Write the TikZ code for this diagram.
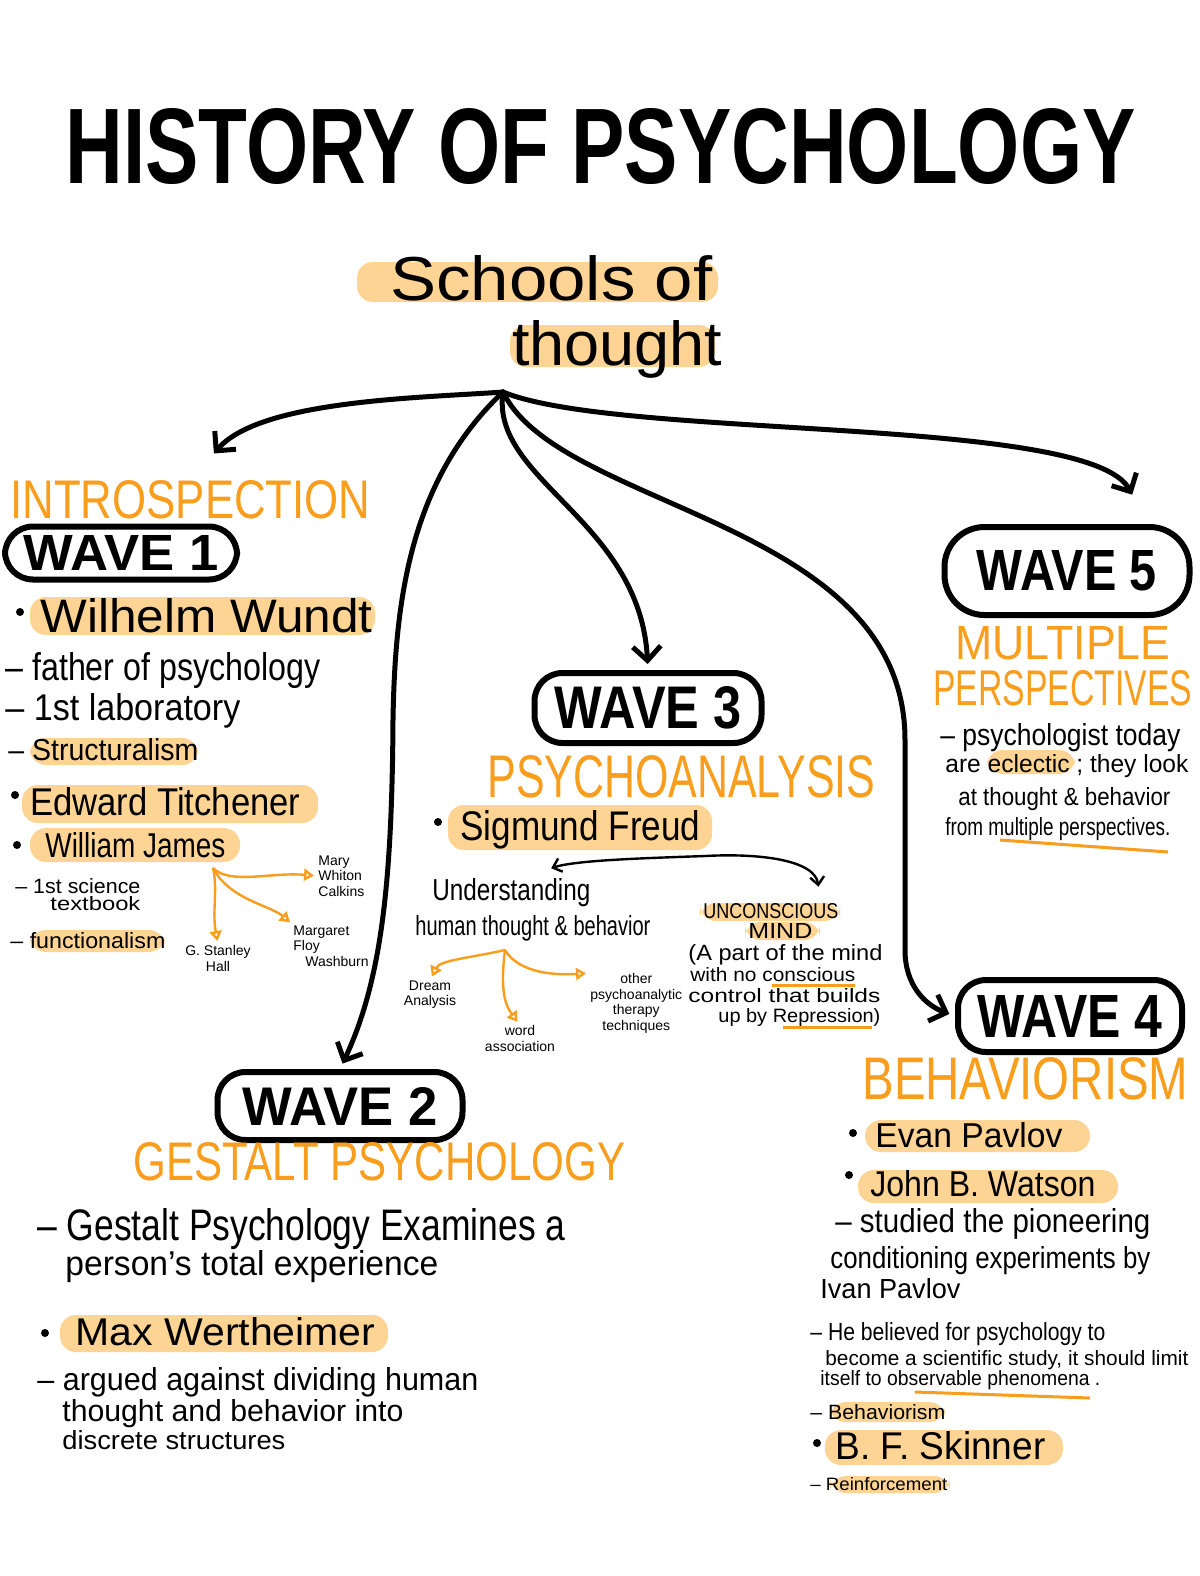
\documentclass[tikz,border=0pt]{standalone}
\usepackage{fontspec}
\setmainfont{Liberation Sans}
\usepackage{graphicx}
\usetikzlibrary{arrows.meta}
\definecolor{hiorange}{HTML}{F99D1C}
\definecolor{hilite}{HTML}{FDD494}
\newlength\pxu \setlength\pxu{0.5pt}
\newcommand\tw[2]{\resizebox{#1\pxu}{!}{#2}}
\newcommand\twh[3]{\resizebox{#1\pxu}{#2\pxu}{#3}}
\begin{document}
\begin{tikzpicture}[x=0.5pt,y=-0.5pt,
  txt/.style={anchor=base west, inner sep=0pt, text=black},
  otxt/.style={txt, text=hiorange},
  hl/.style={fill=hilite, rounded corners=8pt},
  wave/.style={draw, line width=3pt, rounded corners=14pt, inner sep=0pt, font=\bfseries},
  arr/.style={line width=2.5pt, -{Straight Barb[length=7pt,width=14pt]}, line cap=round, shorten >=3pt},
  oarr/.style={hiorange, line width=1.2pt, -{Triangle[open,length=5pt,width=6pt]}, shorten >=2pt},
  thinarr/.style={line width=1.2pt, -{Straight Barb[length=4pt,width=7pt]}, shorten >=2pt},
  sm/.style={inner sep=0pt, font=\fontsize{7}{7.8}\selectfont},
  dot/.style={circle, fill=black, inner sep=0pt, minimum size=4pt},
  uline/.style={hiorange, line width=1.5pt}]
\useasboundingbox (0,0) rectangle (1200,1576);
\fill[white] (0,0) rectangle (1200,1576);

% highlights
\fill[hl] (357,262) rectangle (718,302);
\fill[hl] (510,325) rectangle (715,367);
\fill[hl] (30,597) rectangle (375,635);
\fill[hl] (30,738) rectangle (198,765);
\fill[hl] (22,785) rectangle (318,823);
\fill[hl] (30,828) rectangle (240,862);
\fill[hl] (30,930) rectangle (165,952);
\fill[hl] (448,805) rectangle (712,850);
\fill[hl] (700,903) rectangle (840,921);
\fill[hl] (745,922) rectangle (820,940);
\fill[hl] (987,750) rectangle (1075,774);
\fill[hl] (60,1315) rectangle (388,1352);
\fill[hl] (865,1120) rectangle (1090,1152);
\fill[hl] (858,1170) rectangle (1118,1203);
\fill[hl] (830,1402) rectangle (945,1422);
\fill[hl] (825,1430) rectangle (1063,1465);
\fill[hl] (830,1476) rectangle (950,1493);

% title
\node[txt] (title) at (65,183) {\twh{1070}{75}{\bfseries HISTORY OF PSYCHOLOGY}};
\node[txt] (sch1) at (390,300) {\twh{322}{45}{Schools of}};
\node[txt] (sch2) at (512,365) {\twh{210}{45}{thought}};
\coordinate (root) at (503,392);
\coordinate (i1) at (210,458);
\coordinate (i5) at (1135,500);

% wave 1
\node[otxt] (intro) at (10,518) {\twh{360}{38}{INTROSPECTION}};
\node[wave, minimum width=116pt, minimum height=26.5pt] (w1) at (121,553) {\twh{195}{35}{WAVE 1}};
\node[dot] (b1) at (20,612) {};
\node[txt] (wundt) at (40,632) {\twh{332}{34}{Wilhelm Wundt}};
\node[txt] (father) at (5,680) {\twh{315}{28}{– father of psychology}};
\node[txt] (lab) at (5,720) {\twh{235}{27}{– 1st laboratory}};
\node[txt] (struct) at (8,760) {\twh{190}{22}{– Structuralism}};
\node[dot] (b2) at (15,795) {};
\node[txt] (titch) at (30,815) {\twh{270}{28}{Edward Titchener}};
\node[dot] (b3) at (17,845) {};
\node[txt] (james) at (45,857) {\twh{180}{25}{William James}};
\node[txt] (sci1) at (15,893) {\twh{125}{15}{– 1st science}};
\node[txt] (sci2) at (50,910) {\twh{90}{14}{textbook}};
\node[txt] (func) at (10,948) {\twh{155}{16}{– functionalism}};
\coordinate (wj) at (213,868);
\node[sm, anchor=north west, align=left] (mwc) at (318,855) {Mary\\Whiton\\Calkins};
\node[sm, anchor=north west, align=left] (mfw) at (293,925) {Margaret\\Floy\\\hspace{6pt}Washburn};
\node[sm, anchor=north, align=center] (gsh) at (218,945) {G. Stanley\\Hall};
\draw[oarr] (wj) .. controls (230,885) and (270,872) .. (mwc.west);
\draw[oarr] (wj) .. controls (230,900) and (270,905) .. (mfw.north west);
\draw[oarr] (wj) .. controls (218,890) and (212,910) .. (gsh.north);

% wave 3
\node[wave, minimum width=113.5pt, minimum height=35pt] (w3) at (648,708) {\twh{187}{42}{WAVE 3}};
\node[otxt] (psa) at (487,797) {\twh{388}{42}{PSYCHOANALYSIS}};
\node[dot] (b4) at (438,822) {};
\node[txt] (freud) at (460,840) {\twh{240}{30}{Sigmund Freud}};
\coordinate (fb) at (705,856);
\node[txt] (und1) at (432,900) {\twh{158}{22}{Understanding}};
\node[txt] (und2) at (415,935) {\twh{235}{20}{human thought \& behavior}};
\node[txt] (unc1) at (703,918) {\twh{135}{15}{UNCONSCIOUS}};
\node[txt] (unc2) at (748,938) {\twh{64}{15}{MIND}};
\node[txt] (ud1) at (688,960) {\twh{194}{16}{(A part of the mind}};
\node[txt] (ud2) at (690,981) {\twh{165}{14}{with no conscious}};
\node[txt] (ud3) at (688,1002) {\twh{192}{14}{control that builds}};
\node[txt] (ud4) at (718,1022) {\twh{162}{14}{up by Repression)}};
\draw[uline] (772,985) -- (855,985);
\draw[uline] (783,1027) -- (872,1027);
\draw[thinarr] (fb) .. controls (650,858) and (575,860) .. ([xshift=18pt,yshift=4pt]und1.north);
\draw[thinarr] (fb) .. controls (760,853) and (815,860) .. ([xshift=24pt,yshift=6pt]unc1.north);
\coordinate (ub) at (505,950);
\node[sm, anchor=north, align=center] (dream) at (430,980) {Dream\\Analysis};
\node[sm, anchor=north, align=center] (word) at (520,1025) {word\\association};
\node[sm, anchor=north west, align=center] (other) at (590,973) {other\\psychoanalytic\\therapy\\techniques};
\draw[oarr] (ub) .. controls (470,958) and (440,960) .. (dream.north);
\draw[oarr] (ub) .. controls (500,990) and (505,1005) .. (word.north);
\draw[oarr] (ub) .. controls (520,975) and (560,975) .. (other.north west);

% wave 2
\node[wave, minimum width=122.5pt, minimum height=34pt] (w2) at (340,1106) {\twh{195}{38}{WAVE 2}};
\node[otxt] (gest) at (133,1180) {\twh{492}{38}{GESTALT PSYCHOLOGY}};
\node[txt] (g1) at (37,1240) {\twh{528}{32}{– Gestalt Psychology Examines a}};
\node[txt] (g2) at (65,1275) {\twh{373}{25}{person's total experience}};
\node[dot] (b5) at (45,1333) {};
\node[txt] (max) at (75,1345) {\twh{300}{28}{Max Wertheimer}};
\node[txt] (m1) at (37,1390) {\twh{441}{23}{– argued against dividing human}};
\node[txt] (m2) at (62,1421) {\twh{341}{22}{thought and behavior into}};
\node[txt] (m3) at (62,1449) {\twh{223}{19}{discrete structures}};

% wave 5
\node[wave, minimum width=122.5pt, minimum height=44pt, rounded corners=20pt] (w5) at (1067,571) {\twh{180}{40}{WAVE 5}};
\node[otxt] (mp1) at (955,659) {\twh{215}{33}{MULTIPLE}};
\node[otxt] (mp2) at (933,705) {\twh{259}{35}{PERSPECTIVES}};
\node[txt] (p1) at (940,745) {\twh{240}{22}{– psychologist today}};
\node[txt] (p2) at (945,772) {\twh{243}{18}{are eclectic ; they look}};
\node[txt] (p3) at (958,805) {\twh{212}{18}{at thought \& behavior}};
\node[txt] (p4) at (945,835) {\twh{225}{18}{from multiple perspectives.}};
\draw[uline] (1000,840) -- (1168,852);

% wave 4
\node[wave, minimum width=112pt, minimum height=36pt] (w4) at (1070,1016) {\twh{185}{42}{WAVE 4}};
\node[otxt] (beh) at (862,1099) {\twh{326}{42}{BEHAVIORISM}};
\node[dot] (b6) at (853,1133) {};
\node[txt] (evan) at (875,1147) {\twh{187}{25}{Evan Pavlov}};
\node[dot] (b7) at (849,1175) {};
\node[txt] (john) at (870,1196) {\twh{225}{26}{John B. Watson}};
\node[txt] (s1) at (835,1232) {\twh{315}{24}{– studied the pioneering}};
\node[txt] (s2) at (830,1268) {\twh{320}{22}{conditioning experiments by}};
\node[txt] (s3) at (820,1298) {\twh{140}{20}{Ivan Pavlov}};
\node[txt] (h1) at (810,1340) {\twh{295}{18}{– He believed for psychology to}};
\node[txt] (h2) at (825,1365) {\twh{363}{15}{become a scientific study, it should limit}};
\node[txt] (h3) at (820,1385) {\twh{280}{15}{itself to observable phenomena .}};
\draw[uline] (915,1392) -- (1090,1398);
\node[txt] (bhv) at (810,1419) {\twh{135}{15}{– Behaviorism}};
\node[dot] (b8) at (817,1443) {};
\node[txt] (skin) at (835,1459) {\twh{210}{28}{B. F. Skinner}};
\node[txt] (rein) at (810,1490) {\twh{137}{13}{– Reinforcement}};

% main connectors
\draw[arr] (root) .. controls (420,398) and (260,400) .. (i1);
\draw[arr] (root) .. controls (410,480) and (395,600) .. (393,720) .. controls (392,880) and (382,980) .. (w2.north);
\draw[arr] (root) .. controls (490,480) and (640,520) .. (w3.north);
\draw[arr] (root) .. controls (560,510) and (905,520) .. (905,740) -- (905,950) .. controls (905,985) and (925,1005) .. (w4.west);
\draw[arr] (root) .. controls (620,440) and (1090,415) .. (i5);
\end{tikzpicture}
\end{document}
